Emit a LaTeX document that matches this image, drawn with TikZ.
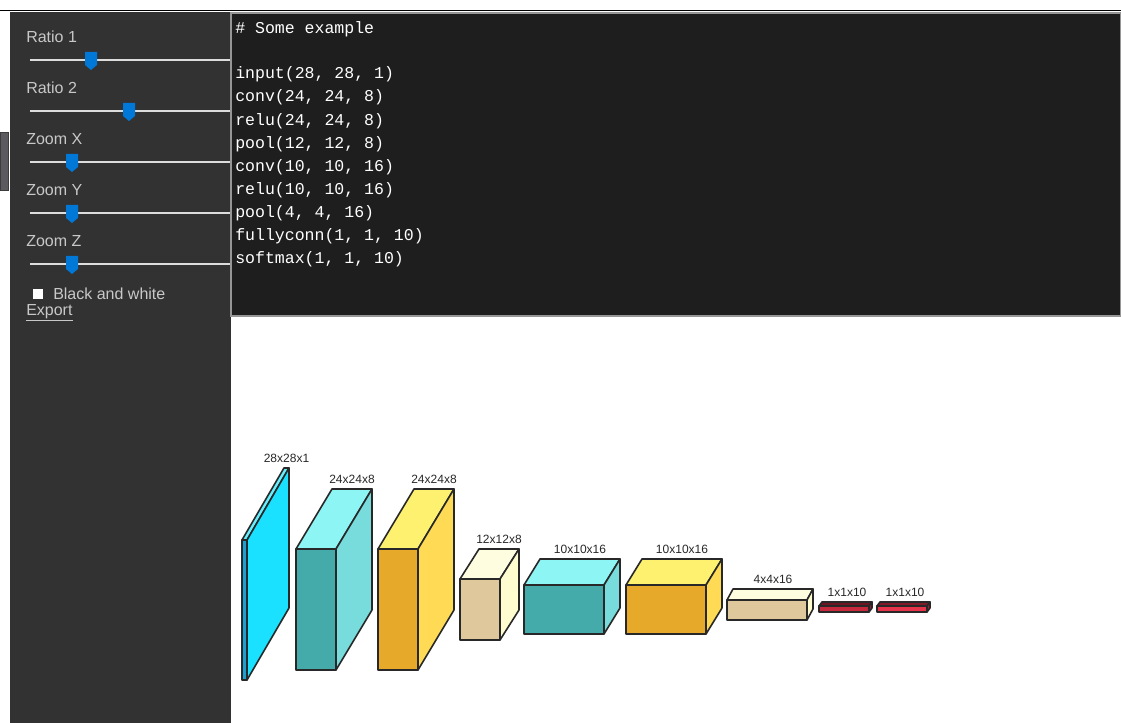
\documentclass[tikz,border=0pt]{standalone}
\usepackage{fontspec}
\setmainfont{Liberation Sans}
\newfontfamily\codefont{Liberation Mono}
\definecolor{panel}{HTML}{323232}
\definecolor{editor}{HTML}{1E1E1E}
\definecolor{thumb}{HTML}{0078D7}
\definecolor{ui}{HTML}{C8C8C8}
\tikzset{
  input front/.style={fill={rgb,255:red,26;green,160;blue,210}},
  input top/.style={fill={rgb,255:red,100;green,240;blue,255}},
  input side/.style={fill={rgb,255:red,26;green,225;blue,255}},
  conv front/.style={fill={rgb,255:red,69;green,170;blue,170}},
  conv top/.style={fill={rgb,255:red,142;green,245;blue,245}},
  conv side/.style={fill={rgb,255:red,120;green,220;blue,220}},
  relu front/.style={fill={rgb,255:red,230;green,169;blue,42}},
  relu top/.style={fill={rgb,255:red,255;green,241;blue,112}},
  relu side/.style={fill={rgb,255:red,255;green,219;blue,85}},
  pool front/.style={fill={rgb,255:red,223;green,201;blue,156}},
  pool top/.style={fill={rgb,255:red,255;green,253;blue,224}},
  pool side/.style={fill={rgb,255:red,255;green,252;blue,208}},
  fc front/.style={fill={rgb,255:red,200;green,40;blue,60}},
  fc top/.style={fill={rgb,255:red,110;green,20;blue,35}},
  fc side/.style={fill={rgb,255:red,150;green,30;blue,45}},
  soft front/.style={fill={rgb,255:red,232;green,52;blue,74}},
  soft top/.style={fill={rgb,255:red,130;green,25;blue,40}},
  soft side/.style={fill={rgb,255:red,170;green,30;blue,50}},
  box/.style={draw={rgb,255:red,40;green,40;blue,40}, line width=1.2pt, line join=round},
  dims/.style={font=\fontsize{9}{10}\selectfont, text={rgb,255:red,40;green,40;blue,40}, inner sep=0pt},
  ui label/.style={font=\fontsize{12}{14}\selectfont, text=ui, anchor=west, inner sep=0pt},
  code/.style={font=\codefont\fontsize{12.4}{14}\selectfont, text=white, anchor=west, inner sep=0pt},
  track/.style={draw={rgb,255:red,221;green,221;blue,221}, line width=2.2pt},
  knob/.style={fill=thumb}
}
% #1 name, #2 x, #3 top of front, #4 width, #5 height, #6 dx, #7 dy, #8 kind, #9 label
\newcommand{\cnnlayer}[9]{%
  \coordinate (#1-tl) at (#2,#3);
  \path (#1-tl) ++(#4,0) coordinate (#1-tr);
  \filldraw[box, #8 front] (#1-tl) rectangle ++(#4,#5);
  \filldraw[box, #8 top] (#1-tl) -- ++(#6,-#7) -- ++(#4,0) -- (#1-tr) -- cycle;
  \filldraw[box, #8 side] (#1-tr) -- ++(#6,-#7) -- ++(0,#5) -- ++(-#6,#7) -- cycle;
  \node[dims] (#1-lbl) at ([shift={({#6-#4/2},{-#7-10})}]#1-tr) {#9};
}
% #1 name, #2 y of track, #3 x of thumb, #4 label
\newcommand{\slider}[4]{%
  \node[ui label] (#1-lbl) at (26,#2-23) {#4};
  \coordinate (#1-a) at (30,#2);
  \coordinate (#1-b) at (230,#2);
  \draw[track] (#1-a) -- (#1-b);
  \fill[knob] (#3-6,#2-8) -- (#3+6,#2-8) -- (#3+6,#2+5) -- (#3,#2+10) -- (#3-6,#2+5) -- cycle;
}

\begin{document}
\begin{tikzpicture}[x=0.75pt, y=-0.75pt]
\useasboundingbox (0,0) rectangle (1121,723);
\fill[white] (0,0) rectangle (1121,723);
% Frame
    \draw[black, line width=1pt] (0,10.5) -- (1121,10.5);
    \fill[panel] (10,12) rectangle (231,723);
    \filldraw[fill={rgb,255:red,90;green,90;blue,95}, draw={rgb,255:red,60;green,60;blue,60}] (0,132) rectangle (8,190);
    \filldraw[fill=editor, draw={rgb,255:red,150;green,150;blue,150}, line width=1pt] (231,13) rectangle (1121,316);
% Controls
    \slider{r1}{60}{91}{Ratio 1}
    \slider{r2}{111}{129}{Ratio 2}
    \slider{zx}{162}{72}{Zoom X}
    \slider{zy}{213}{72}{Zoom Y}
    \slider{zz}{264}{72}{Zoom Z}
    \fill[white] (33,289) rectangle (43,299);
    \node[ui label] (bw) at (53,294) {Black and white};
    \node[ui label] (export) at (26,313) {\underline{Export}};
% Code
    \node[code] (c0) at (235,29) {\# Some example};
    \node[code] (c1) at (235,74) {input(28, 28, 1)};
    \node[code] (c2) at (235,97.5) {conv(24, 24, 8)};
    \node[code] (c3) at (235,121) {relu(24, 24, 8)};
    \node[code] (c4) at (235,144) {pool(12, 12, 8)};
    \node[code] (c5) at (235,167) {conv(10, 10, 16)};
    \node[code] (c6) at (235,190) {relu(10, 10, 16)};
    \node[code] (c7) at (235,213) {pool(4, 4, 16)};
    \node[code] (c8) at (235,236) {fullyconn(1, 1, 10)};
    \node[code] (c9) at (235,259) {softmax(1, 1, 10)};
% Layers
    \cnnlayer{l1}{242}{540}{5}{140}{42}{72}{input}{28x28x1}
    \cnnlayer{l2}{296}{549}{40}{121}{36}{60}{conv}{24x24x8}
    \cnnlayer{l3}{378}{549}{40}{121}{36}{60}{relu}{24x24x8}
    \cnnlayer{l4}{460}{579}{40}{61}{19}{30}{pool}{12x12x8}
    \cnnlayer{l5}{524}{585}{80}{49}{16}{26}{conv}{10x10x16}
    \cnnlayer{l6}{626}{585}{80}{49}{16}{26}{relu}{10x10x16}
    \cnnlayer{l7}{727}{600}{80}{20}{6}{11}{pool}{4x4x16}
    \cnnlayer{l8}{819}{606}{50}{6}{3}{4}{fc}{1x1x10}
    \cnnlayer{l9}{877}{606}{50}{6}{3}{4}{soft}{1x1x10}
\end{tikzpicture}
\end{document}
